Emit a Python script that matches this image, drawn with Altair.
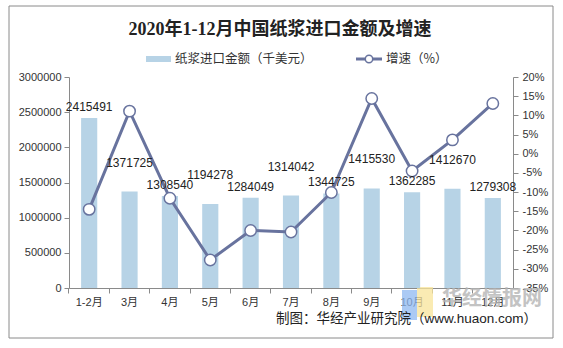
import altair as alt
import pandas as pd

# Monthly import value of pulp (thousand USD) and year-on-year growth (%)
months = ["1-2月", "3月", "4月", "5月", "6月", "7月", "8月", "9月", "10月", "11月", "12月"]
amounts = [2415491, 1371725, 1308540, 1194278, 1284049, 1314042, 1344725, 1415530, 1362285, 1412670, 1279308]
growth = [-14.5, 11.1, -11.6, -27.7, -20.0, -20.4, -10.1, 14.4, -4.5, 3.6, 13.1]

amount_ticks = [0, 500000, 1000000, 1500000, 2000000, 2500000, 3000000]
growth_ticks = [-35, -30, -25, -20, -15, -10, -5, 0, 5, 10, 15, 20]

df = pd.DataFrame({"month": months, "amount": amounts, "growth": growth})

BAR = "#B7D3E6"
LINE = "#68739E"
AXIS = "#8A8A8A"
TXT = "#333333"
LATIN = "Liberation Sans, Noto Sans CJK SC"
CJK = "Noto Sans CJK SC"

W, H = 444, 211

xenc = alt.X(
    "month:N", sort=months, title=None,
    scale=alt.Scale(paddingInner=0, paddingOuter=0),
    axis=alt.Axis(orient="bottom", bandPosition=0, labelAngle=0, tickSize=5,
                  labelPadding=3, labelFont=LATIN, labelFontSize=11, labelColor=TXT,
                  domainColor=AXIS, tickColor=AXIS, grid=False),
)
amount_scale = alt.Scale(domain=[0, 3000000], nice=False, zero=True)
growth_scale = alt.Scale(domain=[-35, 20], nice=False, zero=False)

base = alt.Chart(df)

bars = base.mark_bar(color=BAR, width=alt.RelativeBandSize(0.4)).encode(
    x=xenc,
    y=alt.Y("amount:Q", scale=amount_scale, title=None,
            axis=alt.Axis(orient="left", values=amount_ticks, format="d", grid=False,
                          tickSize=5, labelPadding=3, labelFont=LATIN, labelFontSize=11,
                          labelColor=TXT, domainColor=AXIS, tickColor=AXIS)),
)

line = base.mark_line(color=LINE, strokeWidth=3).encode(
    x=xenc,
    y=alt.Y("growth:Q", scale=growth_scale, title=None,
            axis=alt.Axis(orient="right", values=growth_ticks, labelExpr="datum.value + '%'",
                          grid=False, tickSize=5, labelPadding=4, labelFont=LATIN,
                          labelFontSize=11, labelColor=TXT, domainColor=AXIS, tickColor=AXIS)),
)

points = base.mark_point(shape="circle", filled=True, fill="white", stroke=LINE,
                         strokeWidth=1.5, size=130, opacity=1).encode(
    x=xenc,
    y=alt.Y("growth:Q", scale=growth_scale, axis=None),
)


# Value labels above the bars, staggered on alternate months so neighbours don't collide
def value_labels(parity, dy):
    return base.transform_window(row="row_number()").transform_filter(
        f"datum.row % 2 == {parity}"
    ).mark_text(baseline="middle", align="center", dy=dy, font=LATIN,
                fontSize=12, color="#222222").encode(
        x=xenc,
        y=alt.Y("amount:Q", scale=amount_scale, axis=None),
        text=alt.Text("amount:Q", format="d"),
    )


labels_low = value_labels(1, -11)
labels_high = value_labels(0, -29)

one = alt.Data(values=[{"k": 0}])

# Frame around the whole figure
frame = alt.Chart(one).mark_rect(fillOpacity=0, stroke=AXIS, strokeWidth=1).encode(
    x=alt.value(-60), x2=alt.value(484), y=alt.value(-71), y2=alt.value(261)
)

title = alt.Chart(one).mark_text(
    text="2020年1-12月中国纸浆进口金额及增速", font="Liberation Serif, Noto Sans CJK SC",
    fontSize=18, fontWeight="bold", color="#222222", align="center", baseline="middle"
).encode(x=alt.value(211), y=alt.value(-47))

# Legend
leg_swatch = alt.Chart(one).mark_rect(color=BAR).encode(
    x=alt.value(77), x2=alt.value(102), y=alt.value(-21), y2=alt.value(-15)
)
leg_text1 = alt.Chart(one).mark_text(
    text="纸浆进口金额（千美元）", font=CJK, fontSize=12.5, color=TXT,
    align="left", baseline="middle"
).encode(x=alt.value(106), y=alt.value(-18))
leg_rule = alt.Chart(one).mark_rule(color=LINE, strokeWidth=3).encode(
    x=alt.value(287), x2=alt.value(313), y=alt.value(-18)
)
leg_point = alt.Chart(one).mark_point(shape="circle", filled=True, fill="white", stroke=LINE,
                                      strokeWidth=1.5, size=55, opacity=1).encode(
    x=alt.value(300), y=alt.value(-18)
)
leg_text2 = alt.Chart(one).mark_text(
    text="增速（%）", font=CJK, fontSize=12.5, color=TXT, align="left", baseline="middle"
).encode(x=alt.value(317), y=alt.value(-18))

# Watermark and source note
logo_blue = alt.Chart(one).mark_rect(color="#8FB8F0", opacity=0.75).encode(
    x=alt.value(333), x2=alt.value(348), y=alt.value(213), y2=alt.value(243)
)
logo_yellow = alt.Chart(one).mark_rect(color="#F8E49A", opacity=0.75).encode(
    x=alt.value(348), x2=alt.value(364), y=alt.value(210), y2=alt.value(240)
)
watermark = alt.Chart(one).mark_text(
    text="华经情报网", font=CJK, fontSize=20, fontWeight="bold", color="#B5B5B5",
    opacity=0.8, align="left", baseline="middle"
).encode(x=alt.value(373), y=alt.value(222))
source = alt.Chart(one).mark_text(
    text="制图：华经产业研究院（www.huaon.com）", font=LATIN, fontSize=13.5, color="#222222",
    align="right", baseline="middle"
).encode(x=alt.value(468), y=alt.value(242))

chart = alt.layer(
    frame, logo_blue, logo_yellow, watermark,
    bars, line, points, labels_low, labels_high,
    title, leg_swatch, leg_text1, leg_rule, leg_point, leg_text2, source,
).resolve_scale(y="independent").properties(
    width=W, height=H,
    autosize=alt.AutoSizeParams(type="none"),
    padding={"left": 69, "top": 77, "right": 50, "bottom": 60},
    background="white",
).configure_view(stroke=None)

chart.save("out.html", embed_options={"renderer": "svg", "actions": False})
